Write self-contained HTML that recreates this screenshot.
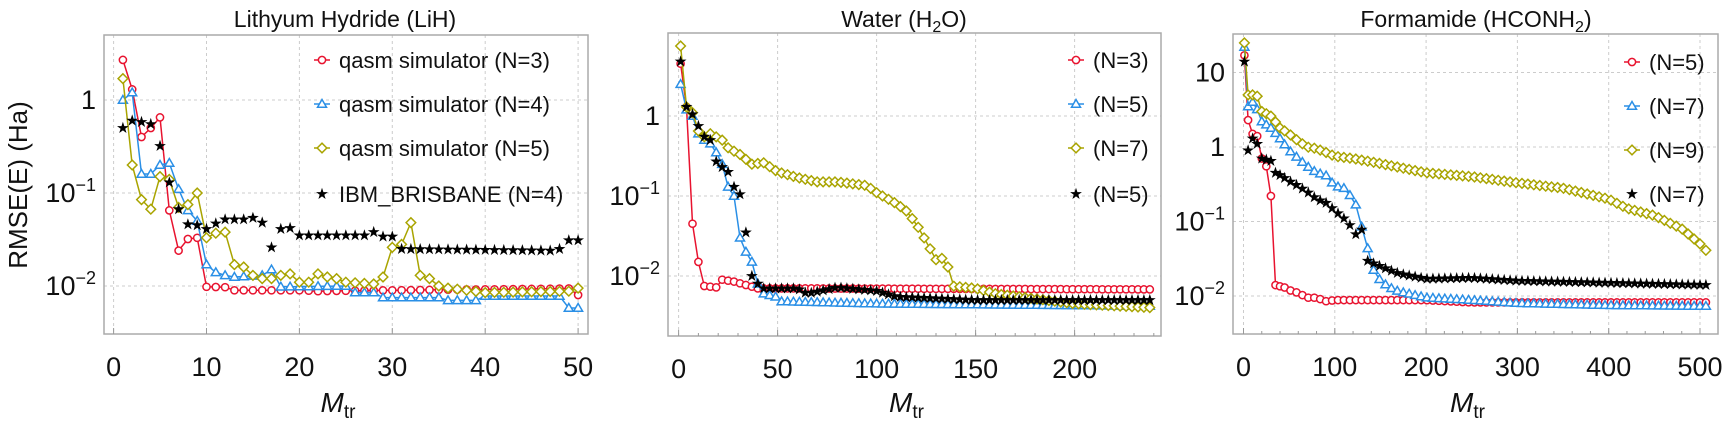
<!DOCTYPE html>
<html><head><meta charset="utf-8"><style>
html,body{margin:0;padding:0;background:#fff;}
svg{display:block;font-family:"Liberation Sans",sans-serif;}
</style></head><body>
<div id="w"></div>
<script>
let h='';
const RED='#e8132f',BLUE='#2a8fe6',OL='#a9a400',BK='#000';
function interp(kn,xs){const out=[];for(const x of xs){let i=0;while(i<kn.length-2&&kn[i+1][0]<x)i++;const a=kn[i],b=kn[i+1];let t=(x-a[0])/(b[0]-a[0]);if(t<0)t=0;if(t>1)t=1;out.push([x,Math.exp(Math.log(a[1])*(1-t)+Math.log(b[1])*t)]);}return out;}
function rng(a,b,s){const r=[];for(let x=a;x<=b;x+=s)r.push(x);return r;}
function f(v){return (+v).toFixed(1);}
function marker(t,x,y,c){
 x=+x;y=+y;
 if(t=='o')return `<circle cx="${f(x)}" cy="${f(y)}" r="3.6" fill="#fff" stroke="${c}" stroke-width="1.5"/>`;
 if(t=='t')return `<polygon points="${f(x)},${f(y-4.5)} ${f(x+4.5)},${f(y+3.2)} ${f(x-4.5)},${f(y+3.2)}" fill="#fff" stroke="${c}" stroke-width="1.5"/>`;
 if(t=='d')return `<polygon points="${f(x)},${f(y-4.8)} ${f(x+4.8)},${f(y)} ${f(x)},${f(y+4.8)} ${f(x-4.8)},${f(y)}" fill="#fff" stroke="${c}" stroke-width="1.5"/>`;
 let p='';for(let k=0;k<10;k++){const r=k%2?2.4:6.2,a=-Math.PI/2+k*Math.PI/5;p+=f(x+r*Math.cos(a))+','+f(y+r*Math.sin(a))+' ';}
 return `<polygon points="${p}" fill="#000"/>`;
}
function panel(P){
 const X=v=>P.x0+v*P.kx, Y=v=>P.y1-(Math.log10(v)-P.ld)*P.ky;
 h+=`<text x="${P.tx}" y="27" font-size="23" text-anchor="middle" fill="#111">${P.title}</text>`;
 for(const g of P.xg)h+=`<line x1="${X(g)}" y1="${P.top}" x2="${X(g)}" y2="${P.bot}" stroke="#ccc" stroke-dasharray="3,3"/>`;
 for(const g of P.yg)h+=`<line x1="${P.left}" y1="${Y(g[0])}" x2="${P.right}" y2="${Y(g[0])}" stroke="#ccc" stroke-dasharray="3,3"/>`;
 h+=`<rect x="${P.left}" y="${P.top}" width="${P.right-P.left}" height="${P.bot-P.top}" fill="none" stroke="#aaa" stroke-width="1.5"/>`;
 for(const g of P.xg){h+=`<line x1="${X(g)}" y1="${P.bot}" x2="${X(g)}" y2="${P.bot-6}" stroke="#999"/>`;h+=`<text x="${X(g)}" y="${P.bot+42}" font-size="27" text-anchor="middle" fill="#111">${g}</text>`;}
 for(const m of P.xm)h+=`<line x1="${X(m)}" y1="${P.bot}" x2="${X(m)}" y2="${P.bot-3}" stroke="#999"/>`;
 for(const g of P.yg)h+=`<text x="${P.left-8}" y="${Y(g[0])+9}" font-size="27" text-anchor="end" fill="#111">${g[1]}</text>`;
 h+=`<text x="${(P.left+P.right)/2-8}" y="412" font-size="28" font-style="italic" fill="#111" text-anchor="middle">M<tspan font-size="19" font-style="normal" dy="6">tr</tspan></text>`;
 const clip='c'+P.tx;h+=`<clipPath id="${clip}"><rect x="${P.left}" y="${P.top}" width="${P.right-P.left}" height="${P.bot-P.top}"/></clipPath><g clip-path="url(#${clip})">`;
 for(const s of P.series){const pts=interp(s.k,s.xs).map(p=>[X(p[0]),Y(p[1])]);
  if(s.m!='s')h+=`<polyline points="${pts.map(p=>f(p[0])+','+f(p[1])).join(' ')}" fill="none" stroke="${s.c}" stroke-width="1.5"/>`;
  for(const p of pts)h+=marker(s.m,p[0],p[1],s.c);}
 h+='</g>';
 P.leg.forEach((l,i)=>{const y=P.ly[i];const s=P.series[i];
  if(s.m!='s')h+=`<line x1="${P.lx-8}" y1="${y}" x2="${P.lx+8}" y2="${y}" stroke="${s.c}" stroke-width="1.5"/>`;
  h+=marker(s.m,P.lx,y,s.c);h+=`<text x="${P.lx+17}" y="${y+8}" font-size="22" fill="#111">${l}</text>`;});
}
const Y1=[[1,'1'],[0.1,'10<tspan dy="-11" font-size="18">−1</tspan>'],[0.01,'10<tspan dy="-11" font-size="18">−2</tspan>']];
const Lx=rng(1,50,1);
panel({title:'Lithyum Hydride (LiH)',tx:345,left:104,right:588,top:35,bot:334,x0:113.6,kx:9.29,y1:286,ld:-2,ky:93,
 xg:[0,10,20,30,40,50],xm:[],yg:Y1,
 series:[
 {m:'o',c:RED,xs:Lx,k:[[1,2.7],[2,1.3],[3,0.4],[4,0.5],[5,0.65],[6,0.065],[7,0.024],[8,0.032],[9,0.033],[10,0.0098],[12,0.0097],[13,0.009],[20,0.009],[22,0.0088],[30,0.009],[40,0.0092],[49,0.0094],[50,0.008]]},
 {m:'t',c:BLUE,xs:Lx,k:[[1,1],[2,1.2],[3,0.16],[4,0.16],[5,0.2],[6,0.21],[7,0.11],[8,0.065],[9,0.05],[10,0.017],[11,0.014],[12,0.013],[13,0.0125],[16,0.013],[17,0.015],[18,0.0098],[25,0.01],[26,0.0085],[28,0.0085],[29,0.0075],[35,0.0075],[36,0.007],[39,0.007],[40,0.0078],[48,0.0078],[49,0.0058],[50,0.0058]]},
 {m:'d',c:OL,xs:Lx,k:[[1,1.7],[2,0.2],[3,0.085],[4,0.067],[5,0.15],[6,0.14],[7,0.07],[8,0.075],[9,0.1],[10,0.033],[11,0.037],[12,0.038],[13,0.017],[14,0.016],[15,0.013],[16,0.012],[17,0.012],[18,0.013],[19,0.0135],[20,0.011],[21,0.011],[22,0.0135],[23,0.0125],[24,0.012],[25,0.011],[28,0.0105],[29,0.0125],[30,0.026],[31,0.028],[32,0.048],[33,0.013],[34,0.012],[35,0.01],[36,0.0095],[40,0.0085],[49,0.0088],[50,0.0095]]},
 {m:'s',c:BK,xs:Lx,k:[[1,0.5],[2,0.6],[3,0.58],[4,0.55],[5,0.32],[6,0.13],[7,0.067],[8,0.046],[9,0.045],[10,0.041],[11,0.047],[12,0.052],[14,0.052],[15,0.054],[16,0.048],[17,0.026],[18,0.041],[19,0.042],[20,0.035],[27,0.035],[28,0.038],[29,0.034],[30,0.034],[31,0.025],[47,0.024],[48,0.025],[49,0.031],[50,0.031]]}],
 leg:['qasm simulator (N=3)','qasm simulator (N=4)','qasm simulator (N=5)','IBM_BRISBANE (N=4)'],lx:322,ly:[60,104,148,194]});
const Wx=rng(1,240,3);
panel({title:'Water (H<tspan font-size="16" dy="5">2</tspan><tspan dy="-5">O)</tspan>',tx:904,left:668,right:1161,top:33,bot:336,x0:678.6,kx:1.98,y1:276,ld:-2,ky:80,
 xg:[0,50,100,150,200],xm:rng(10,240,10),yg:Y1,
 series:[
 {m:'o',c:RED,xs:Wx,k:[[1,4.5],[4,1.3],[7,0.045],[10,0.015],[13,0.0075],[19,0.0072],[22,0.009],[28,0.0085],[40,0.007],[60,0.007],[240,0.0068]]},
 {m:'t',c:BLUE,xs:Wx,k:[[1,2.5],[4,1.2],[7,1.0],[10,0.6],[13,0.5],[16,0.45],[19,0.35],[22,0.25],[25,0.13],[28,0.1],[31,0.03],[34,0.02],[37,0.015],[40,0.008],[43,0.006],[49,0.0055],[52,0.0048],[100,0.0045],[240,0.0042]]},
 {m:'d',c:OL,xs:Wx,k:[[1,7.5],[4,1.3],[7,1.1],[10,0.65],[13,0.55],[16,0.6],[22,0.5],[25,0.4],[31,0.33],[37,0.25],[43,0.26],[50,0.2],[60,0.17],[70,0.15],[80,0.15],[95,0.135],[100,0.11],[110,0.08],[115,0.065],[120,0.045],[125,0.027],[130,0.016],[135,0.017],[138,0.0075],[150,0.007],[160,0.006],[200,0.0045],[240,0.004]]},
 {m:'s',c:BK,xs:Wx,k:[[1,4.8],[4,1.3],[7,1.05],[10,0.75],[13,0.55],[16,0.5],[19,0.27],[22,0.23],[25,0.2],[28,0.13],[31,0.105],[34,0.035],[37,0.01],[40,0.008],[43,0.007],[60,0.007],[65,0.006],[80,0.0072],[100,0.0065],[110,0.0055],[150,0.005],[240,0.005]]}],
 leg:['(N=3)','(N=5)','(N=7)','(N=5)'],lx:1076,ly:[60,104,148,194]});
const Fx=[1,5,10,15,20,25,30,35,40].concat(rng(45,512,6.5));
panel({title:'Formamide (HCONH<tspan font-size="16" dy="5">2</tspan><tspan dy="-5">)</tspan>',tx:1476,left:1233,right:1718,top:34,bot:334,x0:1243.5,kx:0.913,y1:296,ld:-2,ky:74.5,
 xg:[0,100,200,300,400,500],xm:rng(20,500,20),yg:[[10,'10']].concat(Y1),
 series:[
 {m:'o',c:RED,xs:Fx,k:[[1,17],[5,2.3],[10,1.5],[15,1.4],[20,0.7],[25,0.55],[30,0.22],[35,0.014],[45,0.013],[50,0.012],[60,0.011],[70,0.0095],[80,0.0095],[90,0.0085],[100,0.0088],[200,0.0088],[250,0.0082],[512,0.0082]]},
 {m:'t',c:BLUE,xs:Fx,k:[[1,22],[5,3.5],[10,4],[15,3.2],[20,2.2],[30,1.8],[40,1.3],[50,0.9],[60,0.7],[70,0.55],[80,0.45],[90,0.42],[100,0.3],[110,0.28],[120,0.2],[125,0.15],[130,0.08],[135,0.05],[140,0.025],[150,0.016],[160,0.013],[170,0.0115],[200,0.0095],[250,0.0088],[300,0.008],[400,0.0075],[512,0.0073]]},
 {m:'d',c:OL,xs:Fx,k:[[1,25],[5,5],[10,5],[15,4.8],[20,3],[25,2.8],[30,2.6],[40,1.8],[50,1.5],[60,1.2],[70,1.0],[80,0.95],[90,0.85],[100,0.75],[120,0.7],[150,0.6],[200,0.45],[250,0.4],[300,0.33],[350,0.28],[400,0.2],[420,0.15],[450,0.12],[480,0.08],[500,0.05],[506,0.04],[512,0.055]]},
 {m:'s',c:BK,xs:Fx,k:[[1,14],[5,0.9],[10,1.3],[15,1.1],[20,0.7],[30,0.65],[35,0.45],[40,0.42],[50,0.35],[60,0.3],[70,0.25],[80,0.2],[90,0.18],[100,0.14],[110,0.11],[120,0.08],[125,0.06],[130,0.08],[135,0.03],[150,0.025],[170,0.02],[200,0.017],[250,0.0175],[300,0.016],[400,0.015],[512,0.014]]}],
 leg:['(N=5)','(N=7)','(N=9)','(N=7)'],lx:1632,ly:[62,106,150,194]});
h+=`<text transform="translate(27,185) rotate(-90)" font-size="26" text-anchor="middle" fill="#111">RMSE(E) (Ha)</text>`;
document.getElementById('w').innerHTML='<svg width="1725" height="425" xmlns="http://www.w3.org/2000/svg">'+h+'</svg>';
</script>
</body></html>
